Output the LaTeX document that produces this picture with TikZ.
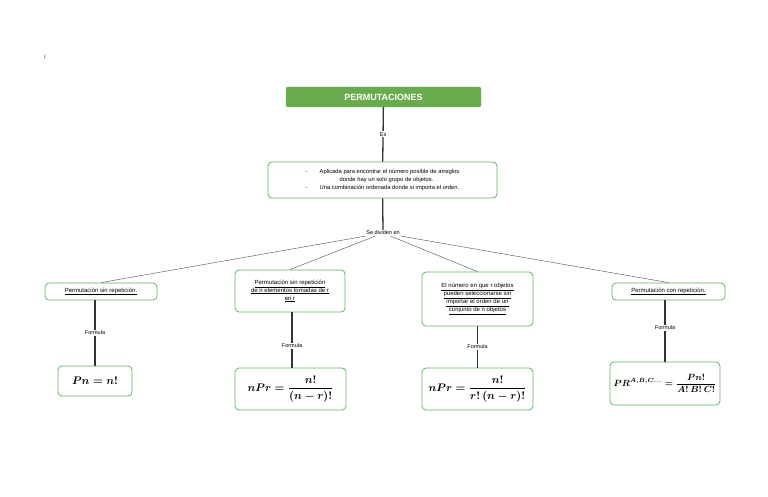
\documentclass[tikz,border=0pt]{standalone}
\usepackage{fontspec}
\setmainfont{Liberation Sans}
\usepackage{amsmath}
\definecolor{tgreen}{HTML}{6AAB4F}
\begin{document}
\begin{tikzpicture}[x=1pt,y=-1pt,
 box/.style={draw=green!50!black!60, line width=0.8pt, rounded corners=4pt, fill=white, inner sep=0pt},
 lbl/.style={fill=white, inner sep=1pt, font=\fontsize{5.5}{6}\selectfont},
 ln/.style={draw=black!80, line width=1.3pt},
 thin/.style={draw=black!70, line width=0.4pt},
 txt/.style={font=\fontsize{6}{8}\selectfont, align=center}]
\useasboundingbox (0,0) rectangle (768,497);
\node[font=\fontsize{5}{5}\selectfont] (mark) at (45,57) {|};
\node[draw=green!50!black!60, fill=tgreen, rounded corners=2pt, minimum width=195pt, minimum height=20pt, text=white, font=\bfseries\fontsize{9}{10}\selectfont] (title) at (383.5,97) {PERMUTACIONES};
\node[box, minimum width=229pt, minimum height=36pt, font=\fontsize{5.8}{8}\selectfont, align=center] (desc) at (382.5,180) {-\hspace{12pt}Aplicada para encontrar el número posible de arreglos\\ \hspace{8pt}donde hay un solo grupo de objetos.\\ -\hspace{12pt}Una combinación ordenada donde si importa el orden.\hspace{4pt}};
\draw[ln] (title) -- node[lbl]{Es} (desc);
\node[lbl] (div) at (383,233) {Se dividen en};
\draw[ln] (desc) -- (div);
\node[box, minimum width=112pt, minimum height=17pt, txt] (b1) at (101,291.5) {\underline{Permutación sin repetición.}};
\node[box, minimum width=110pt, minimum height=42pt, txt] (b2) at (290,291) {\underline{Permutación sin repetición}\\ \underline{de n elementos tomadas de r}\\ \underline{en r}};
\node[box, minimum width=111pt, minimum height=54pt, txt] (b3) at (477.5,299) {\underline{El número en que r objetos}\\ \underline{pueden seleccionarse sin}\\ \underline{importar el orden de un}\\ \underline{conjunto de n objetos}};
\node[box, minimum width=113pt, minimum height=17pt, txt] (b4) at (668.5,291.5) {\underline{Permutación con repetición.}};
\foreach \b in {b1,b2,b3,b4} \draw[thin] (div) -- (\b.north);
\node[box, minimum width=74pt, minimum height=30pt, font=\fontsize{11}{12}\selectfont] (f1) at (95,381) {$\boldsymbol{Pn=n!}$};
\node[box, minimum width=111pt, minimum height=42pt, font=\fontsize{11}{12}\selectfont] (f2) at (290.5,389) {$\boldsymbol{nPr=\dfrac{n!}{(n-r)!}}$};
\node[box, minimum width=111pt, minimum height=42pt, font=\fontsize{11}{12}\selectfont] (f3) at (477.5,389) {$\boldsymbol{nPr=\dfrac{n!}{r!\,(n-r)!}}$};
\node[box, minimum width=110pt, minimum height=43pt, font=\fontsize{9}{10}\selectfont] (f4) at (665,383.5) {$\boldsymbol{PR^{A,B,C\dots}=\dfrac{Pn!}{A!\,B!\,C!}}$};
\draw[ln] (b1.south -| f1) -- node[lbl]{Formula} (f1);
\draw[ln] (b2.south) ++(2,0) coordinate (c2) (c2) -- node[lbl, pos=0.6]{Formula} (c2 |- f2.north);
\draw[ln] (b3.south) -- node[lbl]{Formula} (f3);
\draw[ln] (b4.south -| f4) -- node[lbl, pos=0.45]{Formula} (f4);
\end{tikzpicture}
\end{document}
